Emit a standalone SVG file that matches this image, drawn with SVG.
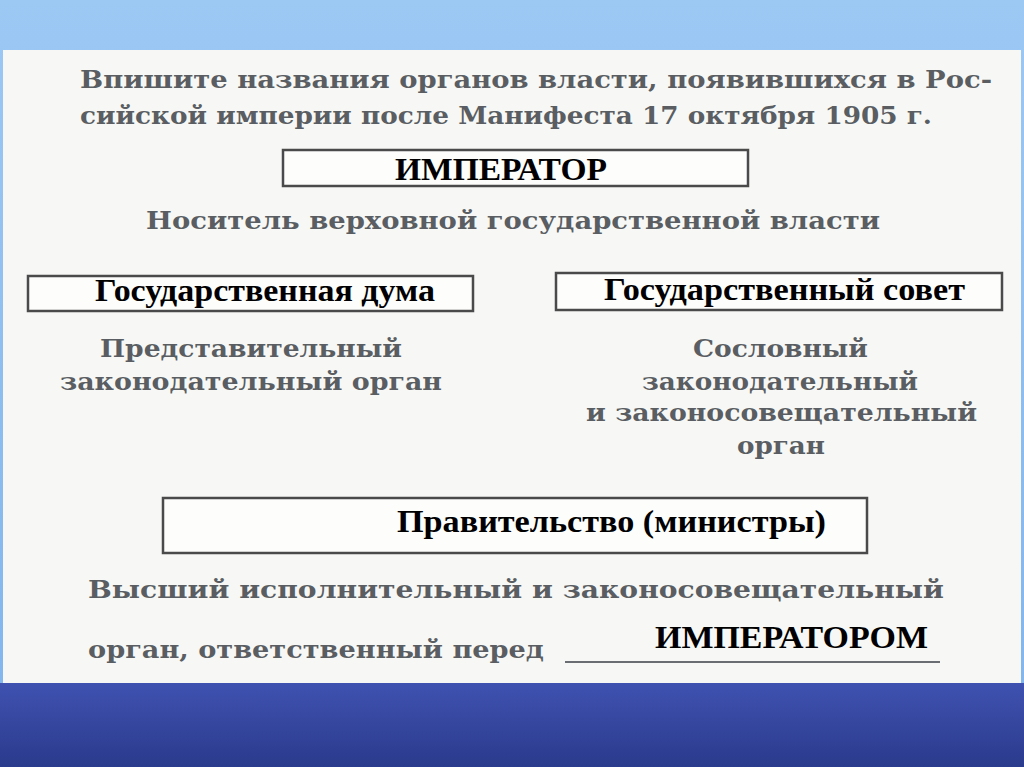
<svg xmlns="http://www.w3.org/2000/svg" width="1024" height="767" viewBox="0 0 1024 767">
<defs>
<linearGradient id="top" x1="0" y1="0" x2="0" y2="1"><stop offset="0" stop-color="#9cc8f4"/><stop offset="1" stop-color="#7fb4ec"/></linearGradient>
<linearGradient id="bot" x1="0" y1="0" x2="0" y2="1"><stop offset="0" stop-color="#3f52b0"/><stop offset="1" stop-color="#2a3a8c"/></linearGradient>
<style>
.box{fill:#fdfdfc;stroke:#4a4a4a;stroke-width:2.5}
.prt{font-family:"DejaVu Serif","Liberation Serif",serif;fill:#5a5e62;font-size:25px;font-weight:bold}
.ans{font-family:"Liberation Serif",serif;fill:#000;font-size:31px;font-weight:bold}
</style>
</defs>
<rect width="1024" height="767" fill="url(#top)"/>
<rect x="0" y="683" width="1024" height="84" fill="url(#bot)"/>
<rect x="3" y="50" width="1018" height="633" fill="#f7f8f6"/>
<text class="prt" x="80" y="88" textLength="912" lengthAdjust="spacingAndGlyphs">Впишите названия органов власти, появившихся в Рос-</text>
<text class="prt" x="80" y="124" textLength="852" lengthAdjust="spacingAndGlyphs">сийской империи после Манифеста 17 октября 1905 г.</text>
<g id="emperor"><rect class="box" x="283" y="150" width="465" height="36"/><text class="ans" x="395" y="180" textLength="212" lengthAdjust="spacingAndGlyphs">ИМПЕРАТОР</text></g>
<text class="prt" x="146" y="229" textLength="734" lengthAdjust="spacingAndGlyphs">Носитель верховной государственной власти</text>
<g id="duma"><rect class="box" x="28" y="276" width="445" height="35"/><text class="ans" x="95" y="301" textLength="340" lengthAdjust="spacingAndGlyphs">Государственная дума</text></g>
<g id="sovet"><rect class="box" x="556" y="273" width="446" height="37"/><text class="ans" x="604" y="300" textLength="361" lengthAdjust="spacingAndGlyphs">Государственный совет</text></g>
<text class="prt" x="100" y="357" textLength="302" lengthAdjust="spacingAndGlyphs">Представительный</text>
<text class="prt" x="60" y="390" textLength="382" lengthAdjust="spacingAndGlyphs">законодательный орган</text>
<text class="prt" x="693" y="357" textLength="175" lengthAdjust="spacingAndGlyphs">Сословный</text>
<text class="prt" x="642" y="390" textLength="276" lengthAdjust="spacingAndGlyphs">законодательный</text>
<text class="prt" x="586" y="421" textLength="391" lengthAdjust="spacingAndGlyphs">и законосовещательный</text>
<text class="prt" x="737" y="454" textLength="88" lengthAdjust="spacingAndGlyphs">орган</text>
<g id="gov"><rect class="box" x="163" y="498" width="704" height="55"/><text class="ans" x="397" y="532" textLength="429" lengthAdjust="spacingAndGlyphs">Правительство (министры)</text></g>
<text class="prt" x="88" y="598" textLength="856" lengthAdjust="spacingAndGlyphs">Высший исполнительный и законосовещательный</text>
<text class="prt" x="88" y="658" textLength="456" lengthAdjust="spacingAndGlyphs">орган, ответственный перед</text>
<line x1="565" y1="662" x2="940" y2="662" stroke="#6a6e72" stroke-width="2"/>
<text class="ans" x="655" y="648" textLength="273" lengthAdjust="spacingAndGlyphs">ИМПЕРАТОРОМ</text>
</svg>
